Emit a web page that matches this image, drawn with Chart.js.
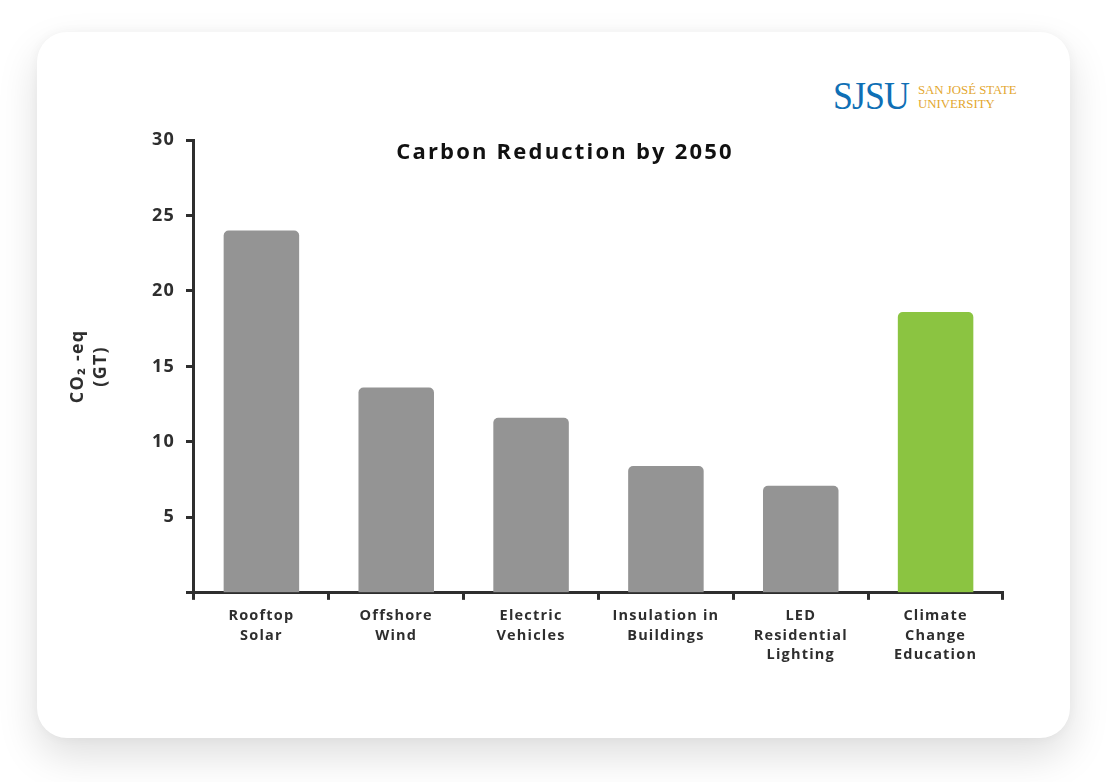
<!DOCTYPE html>
<html>
<head>
<meta charset="utf-8">
<script src="https://cdn.jsdelivr.net/npm/chart.js@4"></script>
<style>
    html, body { margin: 0; padding: 0; background: #ffffff; }
    body { width: 1108px; height: 782px; position: relative; overflow: hidden; }
    .card {
        position: absolute; left: 37px; top: 32px; width: 1033px; height: 706px;
        background: #ffffff; border-radius: 30px;
        box-shadow: 0 18px 40px rgba(0, 0, 0, 0.13), 0 0 12px rgba(0, 0, 0, 0.04);
    }
    .logo { position: absolute; left: 833px; top: 76px; font-family: "Liberation Serif", "DejaVu Serif", serif; }
    .logo .big { position: absolute; left: 0; top: 0; color: #0f6fb5; font-size: 39px; line-height: 40px; letter-spacing: -1px; transform: scaleX(0.92); transform-origin: left top; }
    .logo .small { position: absolute; left: 85px; top: 7px; color: #e3a72f; font-size: 12.8px; line-height: 14px; white-space: nowrap; }
    #chartWrap { position: absolute; left: 0; top: 0; width: 1108px; height: 782px; }
</style>
</head>
<body>
<div class="card"></div>
<div class="logo">
    <div class="big">SJSU</div>
    <div class="small">SAN JOSÉ STATE<br>UNIVERSITY</div>
</div>
<div id="chartWrap"><canvas id="chart"></canvas></div>
<script>
    "use strict";

    // Chart data
    const categories = [
        ["Rooftop", "Solar"],
        ["Offshore", "Wind"],
        ["Electric", "Vehicles"],
        ["Insulation in", "Buildings"],
        ["LED", "Residential", "Lighting"],
        ["Climate", "Change", "Education"],
    ];
    const reductionGt = [24, 13.6, 11.6, 8.4, 7.1, 18.6];
    const barColors = ["#949494", "#949494", "#949494", "#949494", "#949494", "#8bc441"];
    const yTicks = [0, 5, 10, 15, 20, 25, 30];
    const chartTitle = "Carbon Reduction by 2050";
    const yTitle = ["CO\u2082 -eq", "(GT)"];

    const fontFamily = "'Open Sans', Lato, sans-serif";
    const inkColor = "#2e2e2e";

    // letter spacing on the canvas context (reset on every resize)
    const spacingPlugin = {
        id: "spacing",
        beforeUpdate(chart) { chart.ctx.letterSpacing = "1.2px"; },
        beforeDraw(chart) { chart.ctx.letterSpacing = "1.2px"; },
    };

    // Title drawn over the plot area
    const overlayTitle = {
        id: "overlayTitle",
        afterDraw(chart) {
            const ctx = chart.ctx;
            const area = chart.chartArea;
            ctx.save();
            ctx.letterSpacing = "2.2px";
            ctx.font = "bold 22px " + fontFamily;
            ctx.fillStyle = "#111111";
            ctx.textAlign = "center";
            ctx.textBaseline = "middle";
            ctx.fillText(chartTitle, area.left + 371, area.top + 13);
            ctx.restore();
        },
    };

    const ctx = document.getElementById("chart").getContext("2d");

    new Chart(ctx, {
        type: "bar",
        data: {
            labels: categories,
            datasets: [
                {
                    data: reductionGt,
                    backgroundColor: barColors,
                    borderWidth: 0,
                    borderRadius: { topLeft: 5, topRight: 5, bottomLeft: 0, bottomRight: 0 },
                    borderSkipped: "start",
                    categoryPercentage: 1,
                    barPercentage: 0.56,
                },
            ],
        },
        options: {
            responsive: true,
            maintainAspectRatio: false,
            animation: false,
            layout: {
                padding: { left: 67, top: 140, right: 105, bottom: 111 },
            },
            plugins: {
                legend: { display: false },
                tooltip: { enabled: false },
                title: { display: false },
            },
            scales: {
                x: {
                    offset: true,
                    border: { display: true, color: inkColor, width: 3 },
                    grid: {
                        offset: true,
                        drawOnChartArea: false,
                        drawTicks: true,
                        tickLength: 7,
                        tickWidth: 3,
                        tickColor: inkColor,
                    },
                    ticks: {
                        color: inkColor,
                        padding: 6,
                        maxRotation: 0,
                        autoSkip: false,
                        font: { family: fontFamily, size: 14.5, weight: "bold", lineHeight: 1.36 },
                    },
                },
                y: {
                    min: yTicks[0],
                    max: yTicks[yTicks.length - 1],
                    afterBuildTicks(scale) {
                        scale.ticks = yTicks.map((v) => ({ value: v }));
                    },
                    border: { display: true, color: inkColor, width: 3 },
                    grid: {
                        drawOnChartArea: false,
                        drawTicks: true,
                        tickLength: 8,
                        tickWidth: 3,
                        tickColor: inkColor,
                    },
                    ticks: {
                        color: inkColor,
                        padding: 11,
                        font: { family: fontFamily, size: 18, weight: "bold" },
                        callback: (value) => (value === 0 ? "" : value),
                    },
                    title: {
                        display: true,
                        text: yTitle,
                        color: inkColor,
                        padding: { top: 0, bottom: 29 },
                        font: { family: fontFamily, size: 18, weight: "bold", lineHeight: 1.25 },
                    },
                },
            },
        },
        plugins: [spacingPlugin, overlayTitle],
    });
</script>
</body>
</html>
